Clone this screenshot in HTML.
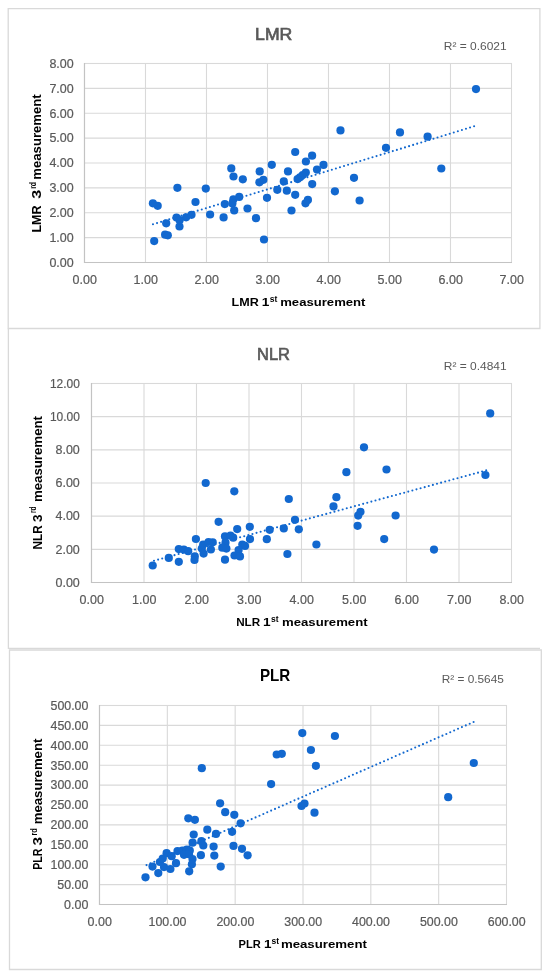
<!DOCTYPE html>
<html><head><meta charset="utf-8"><title>LMR NLR PLR scatter</title>
<style>html,body{margin:0;padding:0;background:#fff;width:550px;height:979px;overflow:hidden}svg{display:block}text{font-family:"Liberation Sans",sans-serif}</style></head><body>
<svg width="550" height="979" viewBox="0 0 550 979">
<rect width="550" height="979" fill="#fff"/>
<g fill="none" stroke="#d9d9d9" stroke-width="1.3">
<path d="M8.2 8.7H539.9V328.5H8.2Z"/>
<path d="M8.4 328.5V648.4H540"/>
<path d="M9.5 650H541.3V969.5H9.5Z"/>
</g>
<path fill="none" stroke="#d9d9d9" stroke-width="1.1" d="M145.5 63.5V262.5M206.5 63.5V262.5M267.5 63.5V262.5M328.5 63.5V262.5M389.5 63.5V262.5M450.5 63.5V262.5M84.5 88.38H511.5M84.5 113.25H511.5M84.5 138.12H511.5M84.5 163H511.5M84.5 187.88H511.5M84.5 212.75H511.5M84.5 237.62H511.5"/>
<rect x="84.5" y="63.5" width="427" height="199" fill="none" stroke="#d9d9d9" stroke-width="1.1"/>
<path d="M84.5 63V262.5H512" fill="none" stroke="#c3c3c3" stroke-width="1.15"/>
<g fill="#595959" stroke="#595959" stroke-width="0.2" font-size="12"><text x="73.7" y="266.8" text-anchor="end" textLength="24.3" lengthAdjust="spacingAndGlyphs">0.00</text><text x="73.7" y="241.93" text-anchor="end" textLength="24.3" lengthAdjust="spacingAndGlyphs">1.00</text><text x="73.7" y="217.05" text-anchor="end" textLength="24.3" lengthAdjust="spacingAndGlyphs">2.00</text><text x="73.7" y="192.18" text-anchor="end" textLength="24.3" lengthAdjust="spacingAndGlyphs">3.00</text><text x="73.7" y="167.3" text-anchor="end" textLength="24.3" lengthAdjust="spacingAndGlyphs">4.00</text><text x="73.7" y="142.43" text-anchor="end" textLength="24.3" lengthAdjust="spacingAndGlyphs">5.00</text><text x="73.7" y="117.55" text-anchor="end" textLength="24.3" lengthAdjust="spacingAndGlyphs">6.00</text><text x="73.7" y="92.67" text-anchor="end" textLength="24.3" lengthAdjust="spacingAndGlyphs">7.00</text><text x="73.7" y="67.8" text-anchor="end" textLength="24.3" lengthAdjust="spacingAndGlyphs">8.00</text><text x="84.7" y="284" text-anchor="middle" textLength="24.3" lengthAdjust="spacingAndGlyphs">0.00</text><text x="145.7" y="284" text-anchor="middle" textLength="24.3" lengthAdjust="spacingAndGlyphs">1.00</text><text x="206.7" y="284" text-anchor="middle" textLength="24.3" lengthAdjust="spacingAndGlyphs">2.00</text><text x="267.7" y="284" text-anchor="middle" textLength="24.3" lengthAdjust="spacingAndGlyphs">3.00</text><text x="328.7" y="284" text-anchor="middle" textLength="24.3" lengthAdjust="spacingAndGlyphs">4.00</text><text x="389.7" y="284" text-anchor="middle" textLength="24.3" lengthAdjust="spacingAndGlyphs">5.00</text><text x="450.7" y="284" text-anchor="middle" textLength="24.3" lengthAdjust="spacingAndGlyphs">6.00</text><text x="511.7" y="284" text-anchor="middle" textLength="24.3" lengthAdjust="spacingAndGlyphs">7.00</text></g>
<path d="M474.1 126.3L152.4 224.5" stroke="#1268cf" stroke-width="2.1" stroke-linecap="round" stroke-dasharray="0 4.25" fill="none"/>
<g fill="#1268cf"><circle cx="152.9" cy="203.3" r="4.1"/><circle cx="157.7" cy="205.8" r="4.1"/><circle cx="195.5" cy="202" r="4.1"/><circle cx="177.4" cy="187.8" r="4.1"/><circle cx="176.5" cy="217.5" r="4.1"/><circle cx="179.5" cy="226.5" r="4.1"/><circle cx="186.1" cy="217.3" r="4.1"/><circle cx="191.5" cy="214.8" r="4.1"/><circle cx="179.6" cy="220.2" r="4.1"/><circle cx="166.2" cy="223.3" r="4.1"/><circle cx="165.1" cy="234.7" r="4.1"/><circle cx="167.8" cy="235.3" r="4.1"/><circle cx="154.2" cy="241.1" r="4.1"/><circle cx="231.3" cy="168.4" r="4.1"/><circle cx="233.5" cy="176.5" r="4.1"/><circle cx="242.8" cy="179.3" r="4.1"/><circle cx="205.8" cy="188.6" r="4.1"/><circle cx="224.8" cy="204.1" r="4.1"/><circle cx="233.4" cy="199.3" r="4.1"/><circle cx="239.2" cy="196.9" r="4.1"/><circle cx="232.4" cy="203.4" r="4.1"/><circle cx="234.2" cy="210.4" r="4.1"/><circle cx="247.5" cy="208.5" r="4.1"/><circle cx="210.1" cy="214.5" r="4.1"/><circle cx="223.6" cy="217.4" r="4.1"/><circle cx="295.2" cy="152" r="4.1"/><circle cx="312.1" cy="155.7" r="4.1"/><circle cx="305.9" cy="161.5" r="4.1"/><circle cx="323.5" cy="164.9" r="4.1"/><circle cx="317" cy="169.6" r="4.1"/><circle cx="271.8" cy="164.8" r="4.1"/><circle cx="259.7" cy="171.4" r="4.1"/><circle cx="288" cy="171.4" r="4.1"/><circle cx="305.8" cy="172.6" r="4.1"/><circle cx="302.7" cy="175.1" r="4.1"/><circle cx="300" cy="177.3" r="4.1"/><circle cx="297.6" cy="179.1" r="4.1"/><circle cx="263.4" cy="179.8" r="4.1"/><circle cx="259.4" cy="182.3" r="4.1"/><circle cx="283.8" cy="181.4" r="4.1"/><circle cx="312.2" cy="184.1" r="4.1"/><circle cx="277.3" cy="189.8" r="4.1"/><circle cx="286.8" cy="190.7" r="4.1"/><circle cx="295.2" cy="194.8" r="4.1"/><circle cx="267" cy="197.8" r="4.1"/><circle cx="307.9" cy="199.9" r="4.1"/><circle cx="305.5" cy="203.3" r="4.1"/><circle cx="256" cy="218.2" r="4.1"/><circle cx="291.5" cy="210.5" r="4.1"/><circle cx="264" cy="239.5" r="4.1"/><circle cx="340.5" cy="130.4" r="4.1"/><circle cx="400" cy="132.4" r="4.1"/><circle cx="386" cy="147.8" r="4.1"/><circle cx="354" cy="177.8" r="4.1"/><circle cx="334.9" cy="191.3" r="4.1"/><circle cx="359.6" cy="200.5" r="4.1"/><circle cx="476" cy="89.1" r="4.1"/><circle cx="427.6" cy="136.7" r="4.1"/><circle cx="441.3" cy="168.5" r="4.1"/></g>
<text x="255.1" y="39.8" font-size="17" fill="#595959" stroke="#595959" stroke-width="0.7" textLength="37.2" lengthAdjust="spacingAndGlyphs">LMR</text>
<text x="443.8" y="49.6" font-size="10.5" fill="#595959" textLength="62.9" lengthAdjust="spacingAndGlyphs">R² = 0.6021</text>
<g font-weight="bold" fill="#000"><text x="231.6" y="306.2" font-size="11.6" textLength="27.2" lengthAdjust="spacingAndGlyphs">LMR</text><text x="261.7" y="306.2" font-size="11.6" textLength="7.6" lengthAdjust="spacingAndGlyphs">1</text><text x="269.7" y="302.4" font-size="8.6" textLength="7.6" lengthAdjust="spacingAndGlyphs">st</text><text x="280.2" y="306.2" font-size="11.6" textLength="85.3" lengthAdjust="spacingAndGlyphs">measurement</text></g>
<g transform="translate(41.2 231.7) rotate(-90)" font-weight="bold" fill="#000"><text x="-0.9" y="0" font-size="11.9" textLength="27.2" lengthAdjust="spacingAndGlyphs">LMR</text><text x="32.9" y="0" font-size="11.9" textLength="9" lengthAdjust="spacingAndGlyphs">3</text><text x="42.9" y="-5.3" font-size="8.6" textLength="6.8" lengthAdjust="spacingAndGlyphs">rd</text><text x="52" y="0" font-size="11.9" textLength="85.4" lengthAdjust="spacingAndGlyphs">measurement</text></g>
<path fill="none" stroke="#d9d9d9" stroke-width="1.1" d="M144 383.5V582.5M196.5 383.5V582.5M249 383.5V582.5M301.5 383.5V582.5M354 383.5V582.5M406.5 383.5V582.5M459 383.5V582.5M91.5 416.67H511.5M91.5 449.83H511.5M91.5 483H511.5M91.5 516.17H511.5M91.5 549.33H511.5"/>
<rect x="91.5" y="383.5" width="420" height="199" fill="none" stroke="#d9d9d9" stroke-width="1.1"/>
<path d="M91.5 383V582.5H512" fill="none" stroke="#c3c3c3" stroke-width="1.15"/>
<g fill="#595959" stroke="#595959" stroke-width="0.2" font-size="12"><text x="79.8" y="586.8" text-anchor="end" textLength="24.3" lengthAdjust="spacingAndGlyphs">0.00</text><text x="79.8" y="553.63" text-anchor="end" textLength="24.3" lengthAdjust="spacingAndGlyphs">2.00</text><text x="79.8" y="520.47" text-anchor="end" textLength="24.3" lengthAdjust="spacingAndGlyphs">4.00</text><text x="79.8" y="487.3" text-anchor="end" textLength="24.3" lengthAdjust="spacingAndGlyphs">6.00</text><text x="79.8" y="454.13" text-anchor="end" textLength="24.3" lengthAdjust="spacingAndGlyphs">8.00</text><text x="79.8" y="420.97" text-anchor="end" textLength="29.9" lengthAdjust="spacingAndGlyphs">10.00</text><text x="79.8" y="387.8" text-anchor="end" textLength="29.9" lengthAdjust="spacingAndGlyphs">12.00</text><text x="91.7" y="604" text-anchor="middle" textLength="24.3" lengthAdjust="spacingAndGlyphs">0.00</text><text x="144.2" y="604" text-anchor="middle" textLength="24.3" lengthAdjust="spacingAndGlyphs">1.00</text><text x="196.7" y="604" text-anchor="middle" textLength="24.3" lengthAdjust="spacingAndGlyphs">2.00</text><text x="249.2" y="604" text-anchor="middle" textLength="24.3" lengthAdjust="spacingAndGlyphs">3.00</text><text x="301.7" y="604" text-anchor="middle" textLength="24.3" lengthAdjust="spacingAndGlyphs">4.00</text><text x="354.2" y="604" text-anchor="middle" textLength="24.3" lengthAdjust="spacingAndGlyphs">5.00</text><text x="406.7" y="604" text-anchor="middle" textLength="24.3" lengthAdjust="spacingAndGlyphs">6.00</text><text x="459.2" y="604" text-anchor="middle" textLength="24.3" lengthAdjust="spacingAndGlyphs">7.00</text><text x="511.7" y="604" text-anchor="middle" textLength="24.3" lengthAdjust="spacingAndGlyphs">8.00</text></g>
<path d="M486.2 470.4L153 561" stroke="#1268cf" stroke-width="2.1" stroke-linecap="round" stroke-dasharray="0 4.25" fill="none"/>
<g fill="#1268cf"><circle cx="152.7" cy="565.5" r="4.1"/><circle cx="168.8" cy="557.9" r="4.1"/><circle cx="178.8" cy="561.8" r="4.1"/><circle cx="178.8" cy="549.1" r="4.1"/><circle cx="183.8" cy="549.6" r="4.1"/><circle cx="188.2" cy="551.2" r="4.1"/><circle cx="195.9" cy="539" r="4.1"/><circle cx="194.8" cy="556.4" r="4.1"/><circle cx="194.5" cy="560" r="4.1"/><circle cx="201.8" cy="548.6" r="4.1"/><circle cx="203.2" cy="544.5" r="4.1"/><circle cx="203.6" cy="553.6" r="4.1"/><circle cx="212.7" cy="542.3" r="4.1"/><circle cx="208.5" cy="542" r="4.1"/><circle cx="210.9" cy="549.5" r="4.1"/><circle cx="218.6" cy="521.8" r="4.1"/><circle cx="237.2" cy="529.1" r="4.1"/><circle cx="249.8" cy="526.8" r="4.1"/><circle cx="225" cy="536.4" r="4.1"/><circle cx="230.5" cy="535.5" r="4.1"/><circle cx="233.2" cy="537.7" r="4.1"/><circle cx="225.5" cy="542.7" r="4.1"/><circle cx="222.3" cy="547.7" r="4.1"/><circle cx="226.4" cy="548.6" r="4.1"/><circle cx="250" cy="539.1" r="4.1"/><circle cx="242.3" cy="544.5" r="4.1"/><circle cx="245" cy="545.9" r="4.1"/><circle cx="238.6" cy="550" r="4.1"/><circle cx="234.5" cy="555.5" r="4.1"/><circle cx="240" cy="556.4" r="4.1"/><circle cx="225" cy="559.7" r="4.1"/><circle cx="288.8" cy="499" r="4.1"/><circle cx="295" cy="519.8" r="4.1"/><circle cx="269.7" cy="529.8" r="4.1"/><circle cx="283.8" cy="528.4" r="4.1"/><circle cx="298.8" cy="529.3" r="4.1"/><circle cx="266.8" cy="539.2" r="4.1"/><circle cx="287.4" cy="554" r="4.1"/><circle cx="205.7" cy="483" r="4.1"/><circle cx="234.3" cy="491.3" r="4.1"/><circle cx="364" cy="447.3" r="4.1"/><circle cx="346.4" cy="472.2" r="4.1"/><circle cx="386.5" cy="469.5" r="4.1"/><circle cx="336.4" cy="497.2" r="4.1"/><circle cx="333.5" cy="506.4" r="4.1"/><circle cx="360.5" cy="511.8" r="4.1"/><circle cx="358.2" cy="515.6" r="4.1"/><circle cx="395.6" cy="515.5" r="4.1"/><circle cx="357.6" cy="525.8" r="4.1"/><circle cx="384.2" cy="539.1" r="4.1"/><circle cx="316.4" cy="544.5" r="4.1"/><circle cx="490.2" cy="413.4" r="4.1"/><circle cx="485.4" cy="475" r="4.1"/><circle cx="434" cy="549.6" r="4.1"/></g>
<text x="257.1" y="359.7" font-size="17" fill="#595959" stroke="#595959" stroke-width="0.7" textLength="32.8" lengthAdjust="spacingAndGlyphs">NLR</text>
<text x="443.8" y="369.6" font-size="10.5" fill="#595959" textLength="62.9" lengthAdjust="spacingAndGlyphs">R² = 0.4841</text>
<g font-weight="bold" fill="#000"><text x="236.2" y="626" font-size="11.6" textLength="24" lengthAdjust="spacingAndGlyphs">NLR</text><text x="262.9" y="626" font-size="11.6" textLength="7.6" lengthAdjust="spacingAndGlyphs">1</text><text x="270.9" y="622.2" font-size="8.6" textLength="7.6" lengthAdjust="spacingAndGlyphs">st</text><text x="282" y="626" font-size="11.6" textLength="85.6" lengthAdjust="spacingAndGlyphs">measurement</text></g>
<g transform="translate(41.7 548.5) rotate(-90)" font-weight="bold" fill="#000"><text x="-0.9" y="0" font-size="11.9" textLength="24" lengthAdjust="spacingAndGlyphs">NLR</text><text x="26.5" y="0" font-size="11.9" textLength="7.6" lengthAdjust="spacingAndGlyphs">3</text><text x="35.6" y="-5.3" font-size="8.6" textLength="6.5" lengthAdjust="spacingAndGlyphs">rd</text><text x="46.4" y="0" font-size="11.9" textLength="86.1" lengthAdjust="spacingAndGlyphs">measurement</text></g>
<path fill="none" stroke="#d9d9d9" stroke-width="1.1" d="M167.33 705.5V904.5M235.17 705.5V904.5M303 705.5V904.5M370.83 705.5V904.5M438.67 705.5V904.5M99.5 725.4H506.5M99.5 745.3H506.5M99.5 765.2H506.5M99.5 785.1H506.5M99.5 805H506.5M99.5 824.9H506.5M99.5 844.8H506.5M99.5 864.7H506.5M99.5 884.6H506.5"/>
<rect x="99.5" y="705.5" width="407" height="199" fill="none" stroke="#d9d9d9" stroke-width="1.1"/>
<path d="M99.5 705V904.5H507" fill="none" stroke="#c3c3c3" stroke-width="1.15"/>
<g fill="#595959" stroke="#595959" stroke-width="0.2" font-size="12"><text x="88.4" y="908.8" text-anchor="end" textLength="24.3" lengthAdjust="spacingAndGlyphs">0.00</text><text x="88.4" y="888.9" text-anchor="end" textLength="31.1" lengthAdjust="spacingAndGlyphs">50.00</text><text x="88.4" y="869" text-anchor="end" textLength="37.9" lengthAdjust="spacingAndGlyphs">100.00</text><text x="88.4" y="849.1" text-anchor="end" textLength="37.9" lengthAdjust="spacingAndGlyphs">150.00</text><text x="88.4" y="829.2" text-anchor="end" textLength="37.9" lengthAdjust="spacingAndGlyphs">200.00</text><text x="88.4" y="809.3" text-anchor="end" textLength="37.9" lengthAdjust="spacingAndGlyphs">250.00</text><text x="88.4" y="789.4" text-anchor="end" textLength="37.9" lengthAdjust="spacingAndGlyphs">300.00</text><text x="88.4" y="769.5" text-anchor="end" textLength="37.9" lengthAdjust="spacingAndGlyphs">350.00</text><text x="88.4" y="749.6" text-anchor="end" textLength="37.9" lengthAdjust="spacingAndGlyphs">400.00</text><text x="88.4" y="729.7" text-anchor="end" textLength="37.9" lengthAdjust="spacingAndGlyphs">450.00</text><text x="88.4" y="709.8" text-anchor="end" textLength="37.9" lengthAdjust="spacingAndGlyphs">500.00</text><text x="99.7" y="925.7" text-anchor="middle" textLength="24.3" lengthAdjust="spacingAndGlyphs">0.00</text><text x="167.53" y="925.7" text-anchor="middle" textLength="37.9" lengthAdjust="spacingAndGlyphs">100.00</text><text x="235.37" y="925.7" text-anchor="middle" textLength="37.9" lengthAdjust="spacingAndGlyphs">200.00</text><text x="303.2" y="925.7" text-anchor="middle" textLength="37.9" lengthAdjust="spacingAndGlyphs">300.00</text><text x="371.03" y="925.7" text-anchor="middle" textLength="37.9" lengthAdjust="spacingAndGlyphs">400.00</text><text x="438.87" y="925.7" text-anchor="middle" textLength="37.9" lengthAdjust="spacingAndGlyphs">500.00</text><text x="506.7" y="925.7" text-anchor="middle" textLength="37.9" lengthAdjust="spacingAndGlyphs">600.00</text></g>
<path d="M473.6 722L145.2 865.7" stroke="#1268cf" stroke-width="2.1" stroke-linecap="round" stroke-dasharray="0 4.25" fill="none"/>
<g fill="#1268cf"><circle cx="145.5" cy="877.3" r="4.1"/><circle cx="152.5" cy="866.6" r="4.1"/><circle cx="158.3" cy="873.1" r="4.1"/><circle cx="159.9" cy="862" r="4.1"/><circle cx="162.7" cy="858.5" r="4.1"/><circle cx="166.6" cy="853.2" r="4.1"/><circle cx="164" cy="867.1" r="4.1"/><circle cx="170.4" cy="869" r="4.1"/><circle cx="171.7" cy="856.2" r="4.1"/><circle cx="176" cy="863.2" r="4.1"/><circle cx="177.5" cy="851.1" r="4.1"/><circle cx="182.4" cy="850.5" r="4.1"/><circle cx="186.8" cy="849.6" r="4.1"/><circle cx="189.8" cy="850.5" r="4.1"/><circle cx="184" cy="854.8" r="4.1"/><circle cx="189" cy="854.2" r="4.1"/><circle cx="192.5" cy="859.1" r="4.1"/><circle cx="191.9" cy="864.3" r="4.1"/><circle cx="189.2" cy="871.3" r="4.1"/><circle cx="193.7" cy="834.5" r="4.1"/><circle cx="192.6" cy="842.7" r="4.1"/><circle cx="201.4" cy="841.2" r="4.1"/><circle cx="203.3" cy="845.5" r="4.1"/><circle cx="200.9" cy="855.2" r="4.1"/><circle cx="220.1" cy="803.3" r="4.1"/><circle cx="225.2" cy="812.2" r="4.1"/><circle cx="234.3" cy="814.8" r="4.1"/><circle cx="240.6" cy="823.3" r="4.1"/><circle cx="188.3" cy="818.3" r="4.1"/><circle cx="194.9" cy="819.8" r="4.1"/><circle cx="207.3" cy="829.7" r="4.1"/><circle cx="216" cy="833.9" r="4.1"/><circle cx="232.1" cy="831.8" r="4.1"/><circle cx="213.6" cy="846.6" r="4.1"/><circle cx="233.5" cy="845.9" r="4.1"/><circle cx="242" cy="848.8" r="4.1"/><circle cx="247.6" cy="855.3" r="4.1"/><circle cx="214.3" cy="855.6" r="4.1"/><circle cx="220.7" cy="866.6" r="4.1"/><circle cx="302.3" cy="733.1" r="4.1"/><circle cx="334.9" cy="736" r="4.1"/><circle cx="310.9" cy="750" r="4.1"/><circle cx="315.9" cy="765.8" r="4.1"/><circle cx="276.7" cy="754.5" r="4.1"/><circle cx="281.8" cy="753.8" r="4.1"/><circle cx="271.1" cy="784.1" r="4.1"/><circle cx="301.5" cy="806" r="4.1"/><circle cx="304.5" cy="803.5" r="4.1"/><circle cx="314.5" cy="812.7" r="4.1"/><circle cx="473.8" cy="763" r="4.1"/><circle cx="448.2" cy="797.2" r="4.1"/><circle cx="201.8" cy="768.2" r="4.1"/></g>
<text x="260" y="680.7" font-size="16.2" font-weight="bold" fill="#000" textLength="30.3" lengthAdjust="spacingAndGlyphs">PLR</text>
<text x="441.7" y="682.8" font-size="10.5" fill="#595959" textLength="62.2" lengthAdjust="spacingAndGlyphs">R² = 0.5645</text>
<g font-weight="bold" fill="#000"><text x="238.6" y="947.5" font-size="11.6" textLength="22.2" lengthAdjust="spacingAndGlyphs">PLR</text><text x="264" y="947.5" font-size="11.6" textLength="7.5" lengthAdjust="spacingAndGlyphs">1</text><text x="271.6" y="943.7" font-size="8.6" textLength="7.6" lengthAdjust="spacingAndGlyphs">st</text><text x="280.9" y="947.5" font-size="11.6" textLength="86" lengthAdjust="spacingAndGlyphs">measurement</text></g>
<g transform="translate(42.4 868.9) rotate(-90)" font-weight="bold" fill="#000"><text x="-0.9" y="0" font-size="11.9" textLength="21.2" lengthAdjust="spacingAndGlyphs">PLR</text><text x="23.4" y="0" font-size="11.9" textLength="8.5" lengthAdjust="spacingAndGlyphs">3</text><text x="33.4" y="-5.3" font-size="8.6" textLength="7.2" lengthAdjust="spacingAndGlyphs">rd</text><text x="44.6" y="0" font-size="11.9" textLength="85.7" lengthAdjust="spacingAndGlyphs">measurement</text></g>
</svg>
</body></html>
